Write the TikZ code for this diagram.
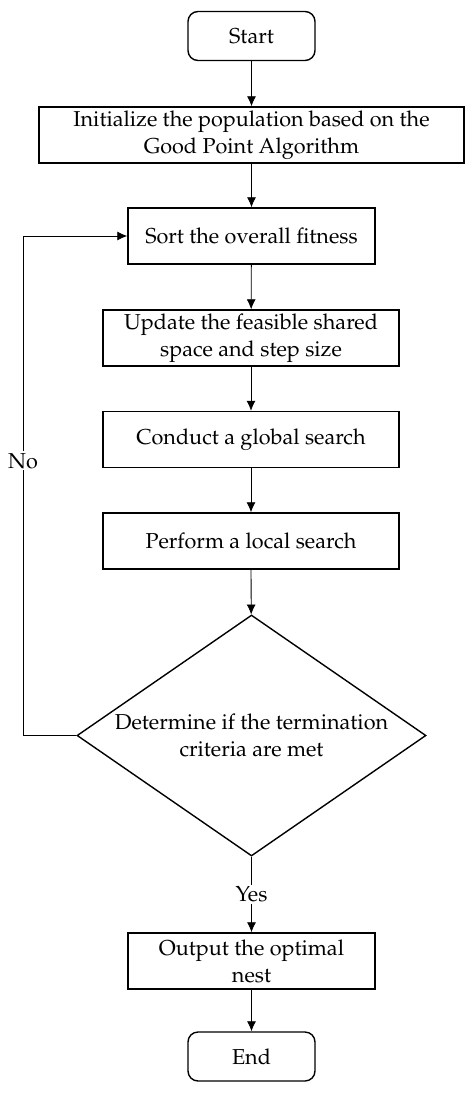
\documentclass[tikz,border=0pt]{standalone}
\usepackage[T1]{fontenc}
\usepackage{mathpazo}
\usetikzlibrary{shapes.geometric,arrows.meta}
\tikzset{>=Latex}
\tikzstyle{term}=[draw, line width=1.4pt, rounded corners=10pt, minimum width=127pt, minimum height=49pt]
\tikzstyle{proc}=[draw, line width=1.4pt, minimum height=56pt, align=center, inner sep=0pt]
\tikzstyle{dec}=[draw, diamond, line width=1.4pt, aspect=1.45, minimum width=349pt, minimum height=241pt, align=center, inner sep=0pt]
\tikzstyle{arw}=[line width=0.8pt, -{Latex[length=10pt,width=9pt]}]

\begin{document}
\begin{tikzpicture}[x=1pt, y=-1pt, font=\fontsize{21.6}{27}\selectfont]
    \useasboundingbox (0,0) rectangle (474,1096);
    \node[term] (start) at (251.5,36) {Start};
    \node[proc, minimum width=425pt] (init) at (251.5,135) {Initialize the population based on the\\Good Point Algorithm};
    \node[proc, minimum width=247pt] (sort) at (251.5,236) {Sort the overall fitness};
    \node[proc, minimum width=296pt] (upd) at (251,338) {Update the feasible shared\\space and step size};
    \node[proc, minimum width=296pt] (glob) at (251,439.5) {Conduct a global search};
    \node[proc, minimum width=296pt] (loc) at (251,541) {Perform a local search};
    \node[dec] (check) at (251.5,735.5) {Determine if the termination\\criteria are met};
    \node[proc, minimum width=247pt] (out) at (251.5,961) {Output the optimal\\nest};
    \node[term] (end) at (251.5,1056.5) {End};
    \coordinate (lb) at (23,735.5);

    \draw[arw] (start) -- (init);
    \draw[arw] (init) -- (sort);
    \draw[arw] (sort) -- (upd);
    \draw[arw] (upd) -- (glob);
    \draw[arw] (glob) -- (loc);
    \draw[arw] (loc) -- (check);
    \draw[arw] (check) -- node[fill=white, inner sep=2pt] {Yes} (out);
    \draw[arw] (out) -- (end);
    % loop back when not finished
    \draw[arw] (check.west) -- (lb) -- node[fill=white, inner sep=2pt, pos=0.55] {No} (lb |- sort.west) -- (sort.west);
\end{tikzpicture}
\end{document}
